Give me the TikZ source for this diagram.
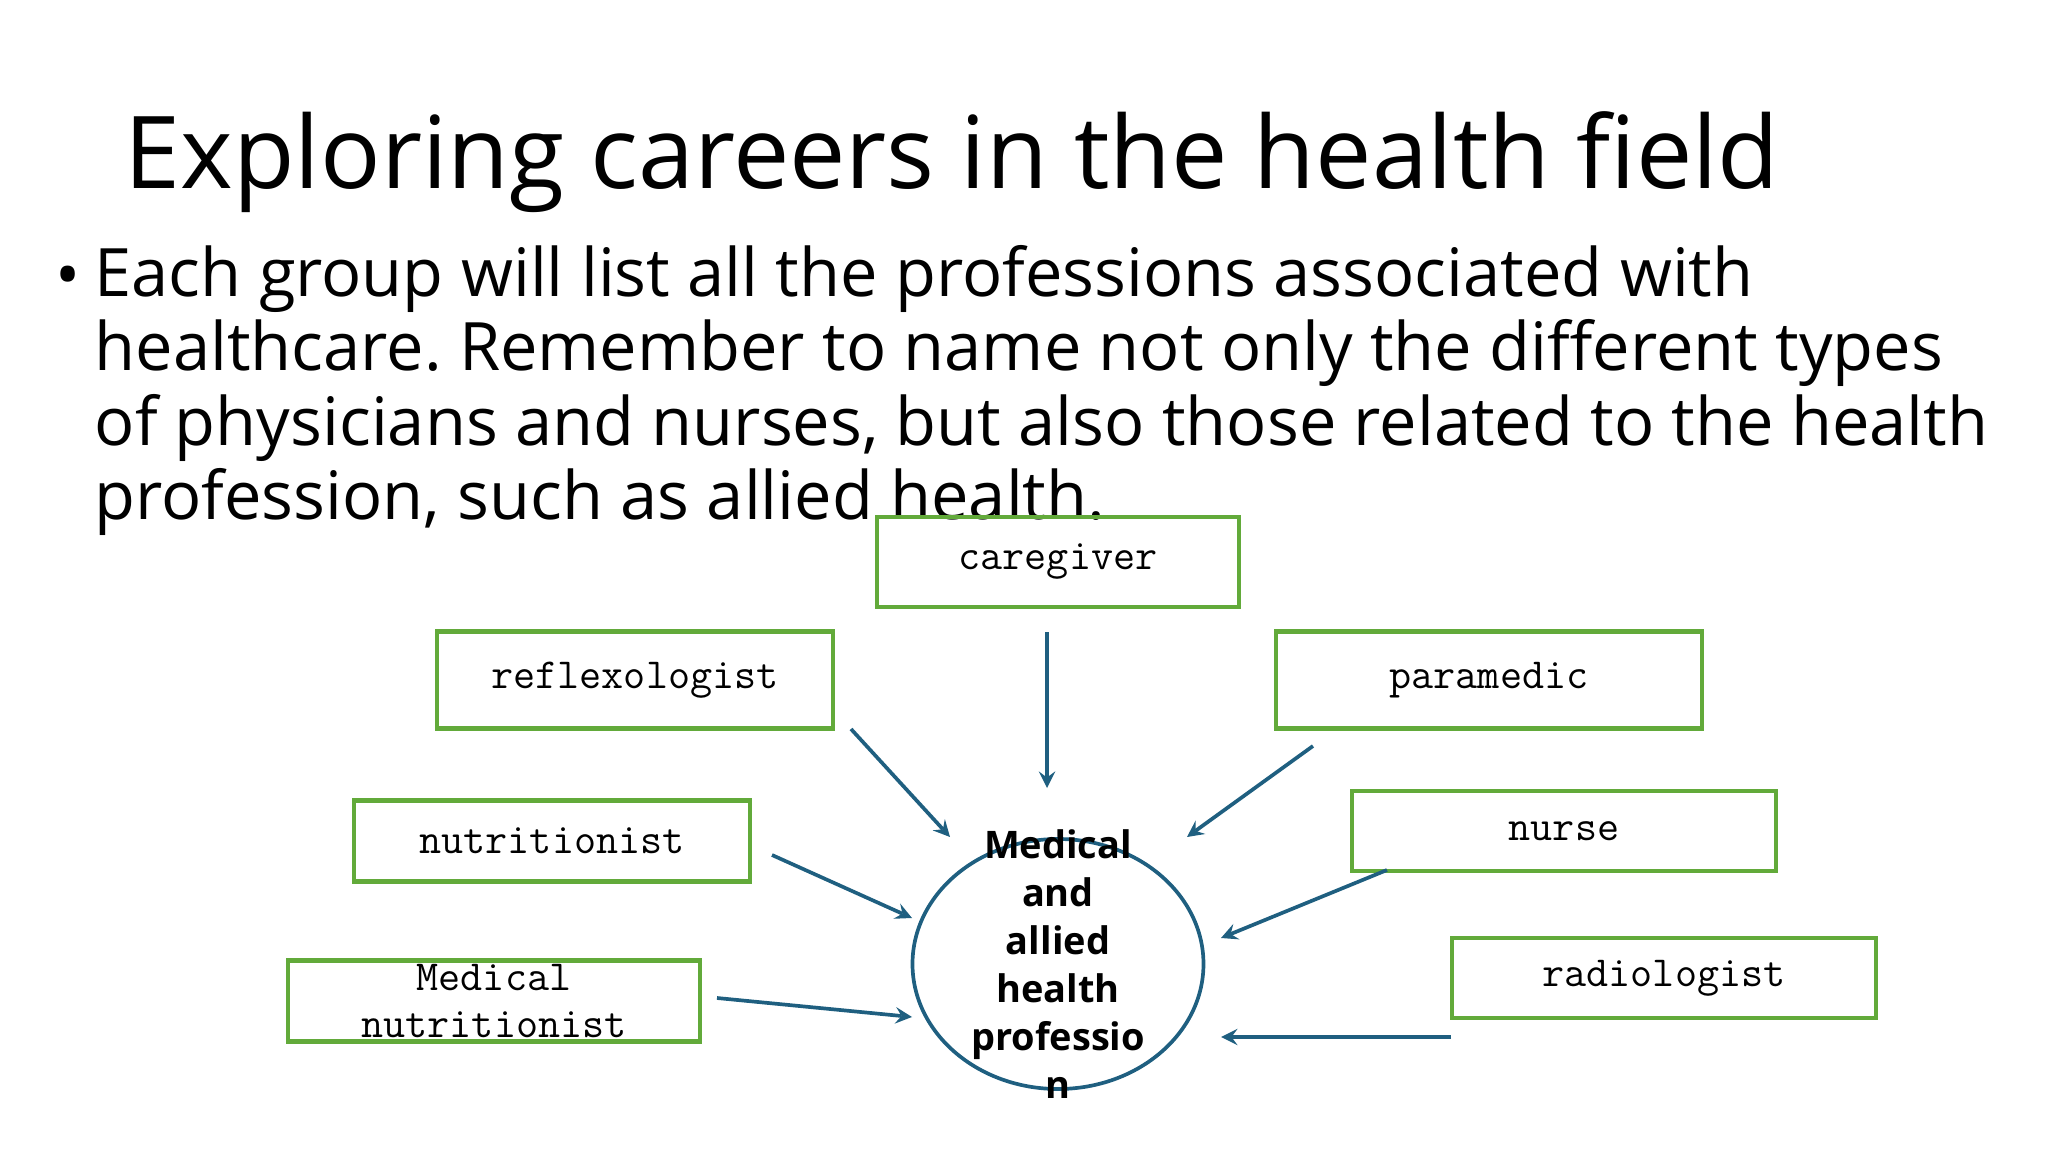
\documentclass[tikz,border=0pt]{standalone}
\usepackage{fontspec}
\setmainfont{Open Sans}
\usepackage{tikz}
\usepackage{xcolor}
\usetikzlibrary{shapes,arrows,positioning,calc}
\definecolor{boxgreen}{RGB}{98,170,58}
\definecolor{hubblue}{RGB}{31,95,128}
\frenchspacing
\tikzset{
    jobbox/.style={draw=boxgreen, line width=1.15pt, inner sep=0pt, align=center,
        font=\fontsize{12.2}{13.4}\selectfont\ttfamily},
    feed/.style={draw=hubblue, line width=1.05pt, -stealth},
}

\begin{document}
\begin{tikzpicture}
    \useasboundingbox (0,0) rectangle (20.48,-11.52);

    % Heading
    \node[anchor=base west, inner sep=0pt, font=\fontsize{28.6}{34}\selectfont] (title) at (1.24,-1.89) {Exploring careers in the health field};

    % Task text
    \node[anchor=base west, inner sep=0pt, font=\fontsize{19}{21.1}\selectfont] (dot) at (0.55,-2.99) {•};
    \node[anchor=north west, inner sep=0pt, align=left, font=\fontsize{19}{21.1}\selectfont] (task) at (0.94,-2.45)
        {Each group will list all the professions associated with\\
         healthcare. Remember to name not only the different types\\
         of physicians and nurses, but also those related to the health\\
         profession, such as allied health.};

    % Centre
    \node[draw=hubblue, line width=1.05pt, ellipse, minimum width=2.91cm, minimum height=2.5cm, inner sep=0pt] (hub) at (10.58,-9.64) {};
    \node[align=center, inner sep=0pt, font=\bfseries\fontsize{10.8}{13.7}\selectfont] (hubtext) at (hub.center)
        {Medical\\and\\allied\\health\\professio\\n};

    % Professions
    \node[jobbox, minimum width=3.62cm, minimum height=0.9cm] (caregiver) at (10.58,-5.62) {caregiver};
    \node[jobbox, minimum width=3.96cm, minimum height=0.97cm] (reflexo) at (6.35,-6.80) {reflexologist};
    \node[jobbox, minimum width=4.26cm, minimum height=0.97cm] (paramedic) at (14.89,-6.80) {paramedic};
    \node[jobbox, minimum width=3.96cm, minimum height=0.81cm] (nutri) at (5.52,-8.41) {nutritionist};
    \node[jobbox, minimum width=4.24cm, minimum height=0.8cm] (nurse) at (15.64,-8.31) {nurse};
    \node[jobbox, minimum width=4.24cm, minimum height=0.8cm] (radio) at (16.64,-9.78) {radiologist};
    \node[jobbox, minimum width=4.12cm, minimum height=0.81cm] (mednutri) at (4.94,-10.01) {Medical\\nutritionist};

    % Arrow ends
    \coordinate (careA) at (10.47,-6.32);   \coordinate (careB) at (10.47,-7.88);
    \coordinate (reflA) at (8.51,-7.29);    \coordinate (reflB) at (9.50,-8.37);
    \coordinate (paraA) at (13.13,-7.46);   \coordinate (paraB) at (11.87,-8.37);
    \coordinate (nutrA) at (7.72,-8.55);    \coordinate (nutrB) at (9.12,-9.18);
    \coordinate (nursA) at (13.87,-8.70);   \coordinate (nursB) at (12.21,-9.38);
    \coordinate (mednA) at (7.17,-9.98);    \coordinate (mednB) at (9.12,-10.17);
    \coordinate (radiA) at (14.51,-10.37);  \coordinate (radiB) at (12.21,-10.37);

    % Arrows
    \draw[feed] (careA) -- (careB);
    \draw[feed] (reflA) -- (reflB);
    \draw[feed] (paraA) -- (paraB);
    \draw[feed] (nutrA) -- (nutrB);
    \draw[feed] (nursA) -- (nursB);
    \draw[feed] (mednA) -- (mednB);
    \draw[feed] (radiA) -- (radiB);
\end{tikzpicture}
\end{document}
